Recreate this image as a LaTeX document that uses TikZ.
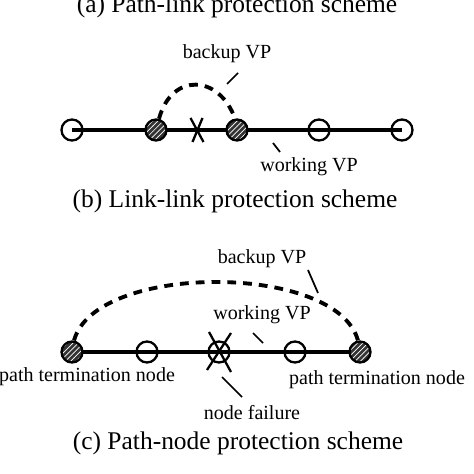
\documentclass[tikz,border=0pt]{standalone}
\usepackage{fontspec}
\setmainfont{Liberation Serif}
\usepackage{tikz}
\usetikzlibrary{patterns}
\usetikzlibrary{backgrounds}
\newcommand{\lblsize}{\fontsize{11.4}{13}\selectfont}
\newcommand{\capsize}{\fontsize{14.5}{17}\selectfont}

\begin{document}
\begin{tikzpicture}[x=0.02cm,y=0.02cm]
	\tikzset{
		netnode/.style={draw,circle,line width=1.3pt,minimum size=0.42cm,inner sep=0},
		%
		opennode/.style={netnode},
		termnode/.style={netnode,preaction={fill=black!80},pattern=north east lines,pattern color=white},
		%
		wire/.style={line width=2pt},
		backup/.style={line width=2.2pt,dash pattern=on 5pt off 4pt},
		leader/.style={line width=1pt},
		crossmark/.style={line width=1.3pt},
		lbl/.style={anchor=base,inner sep=0,font=\lblsize},
		captext/.style={anchor=base,inner sep=0,font=\capsize}
	}
	\useasboundingbox (0,0) rectangle (474,474);
	
	% (a) caption, cut at the top
	\node[captext] (capa) at (237,461.5) {(a) Path-link protection scheme};
	
	% (b) link-link
	\foreach \n/\x/\kind in {1/72/opennode, 2/156/termnode, 3/237/termnode, 4/319/opennode, 5/402/opennode}
		\node[\kind] (b\n) at (\x,344) {};
	\coordinate (bx) at (197,344);
	\begin{scope}[on background layer]
		\draw[wire] (b1.center) -- (b5.center);
	\end{scope}
	\draw[crossmark] (bx) ++(-6.5,12) -- ++(13,-24);
	\draw[crossmark] (bx) ++(5.5,12) -- ++(-10,-24);
	\draw[backup] (b2.75) to[out=75,in=110,looseness=1.6] (b3.100);
	
	\node[lbl] (bupb) at (227,415) {backup VP};
	\coordinate (bupb1) at (238,401);
	\coordinate (bupb2) at (227,390);
	\draw[leader] (bupb1) -- (bupb2);
	\node[lbl] (wrkb) at (309,302) {working VP};
	\coordinate (wrkb1) at (273,331);
	\coordinate (wrkb2) at (280,322);
	\draw[leader] (wrkb1) -- (wrkb2);
	
	\node[captext] (capb) at (235,266) {(b) Link-link protection scheme};
	
	% (c) path-node
	\foreach \n/\x/\kind in {1/72/termnode, 2/147/opennode, 3/219/opennode, 4/295/opennode, 5/360/termnode}
		\node[\kind] (c\n) at (\x,122) {};
	\begin{scope}[on background layer]
		\draw[wire] (c1.center) -- (c5.center);
	\end{scope}
	\draw[crossmark] (c3) ++(-10,20) -- ++(22,-40);
	\draw[crossmark] (c3) ++(12,19) -- ++(-24,-37);
	\draw[backup] (c1.80) to[out=75,in=105,looseness=0.73] (c5.100);
	
	\node[lbl] (bupc) at (262,210) {backup VP};
	\coordinate (bupc1) at (308,204);
	\coordinate (bupc2) at (318,181);
	\draw[leader] (bupc1) -- (bupc2);
	\node[lbl] (wrkc) at (262,154) {working VP};
	\coordinate (wrkc1) at (253,141);
	\coordinate (wrkc2) at (263,131);
	\draw[leader] (wrkc1) -- (wrkc2);
	
	\node[lbl] (termc1) at (87,92) {path termination node};
	\node[lbl] (termc5) at (377,90) {path termination node};
	\node[lbl] (failc) at (252,54) {node failure};
	\coordinate (failc1) at (222,97);
	\coordinate (failc2) at (242,77);
	\draw[leader] (failc1) -- (failc2);
	
	\node[captext] (capc) at (238,25) {(c) Path-node protection scheme};
\end{tikzpicture}
\end{document}
